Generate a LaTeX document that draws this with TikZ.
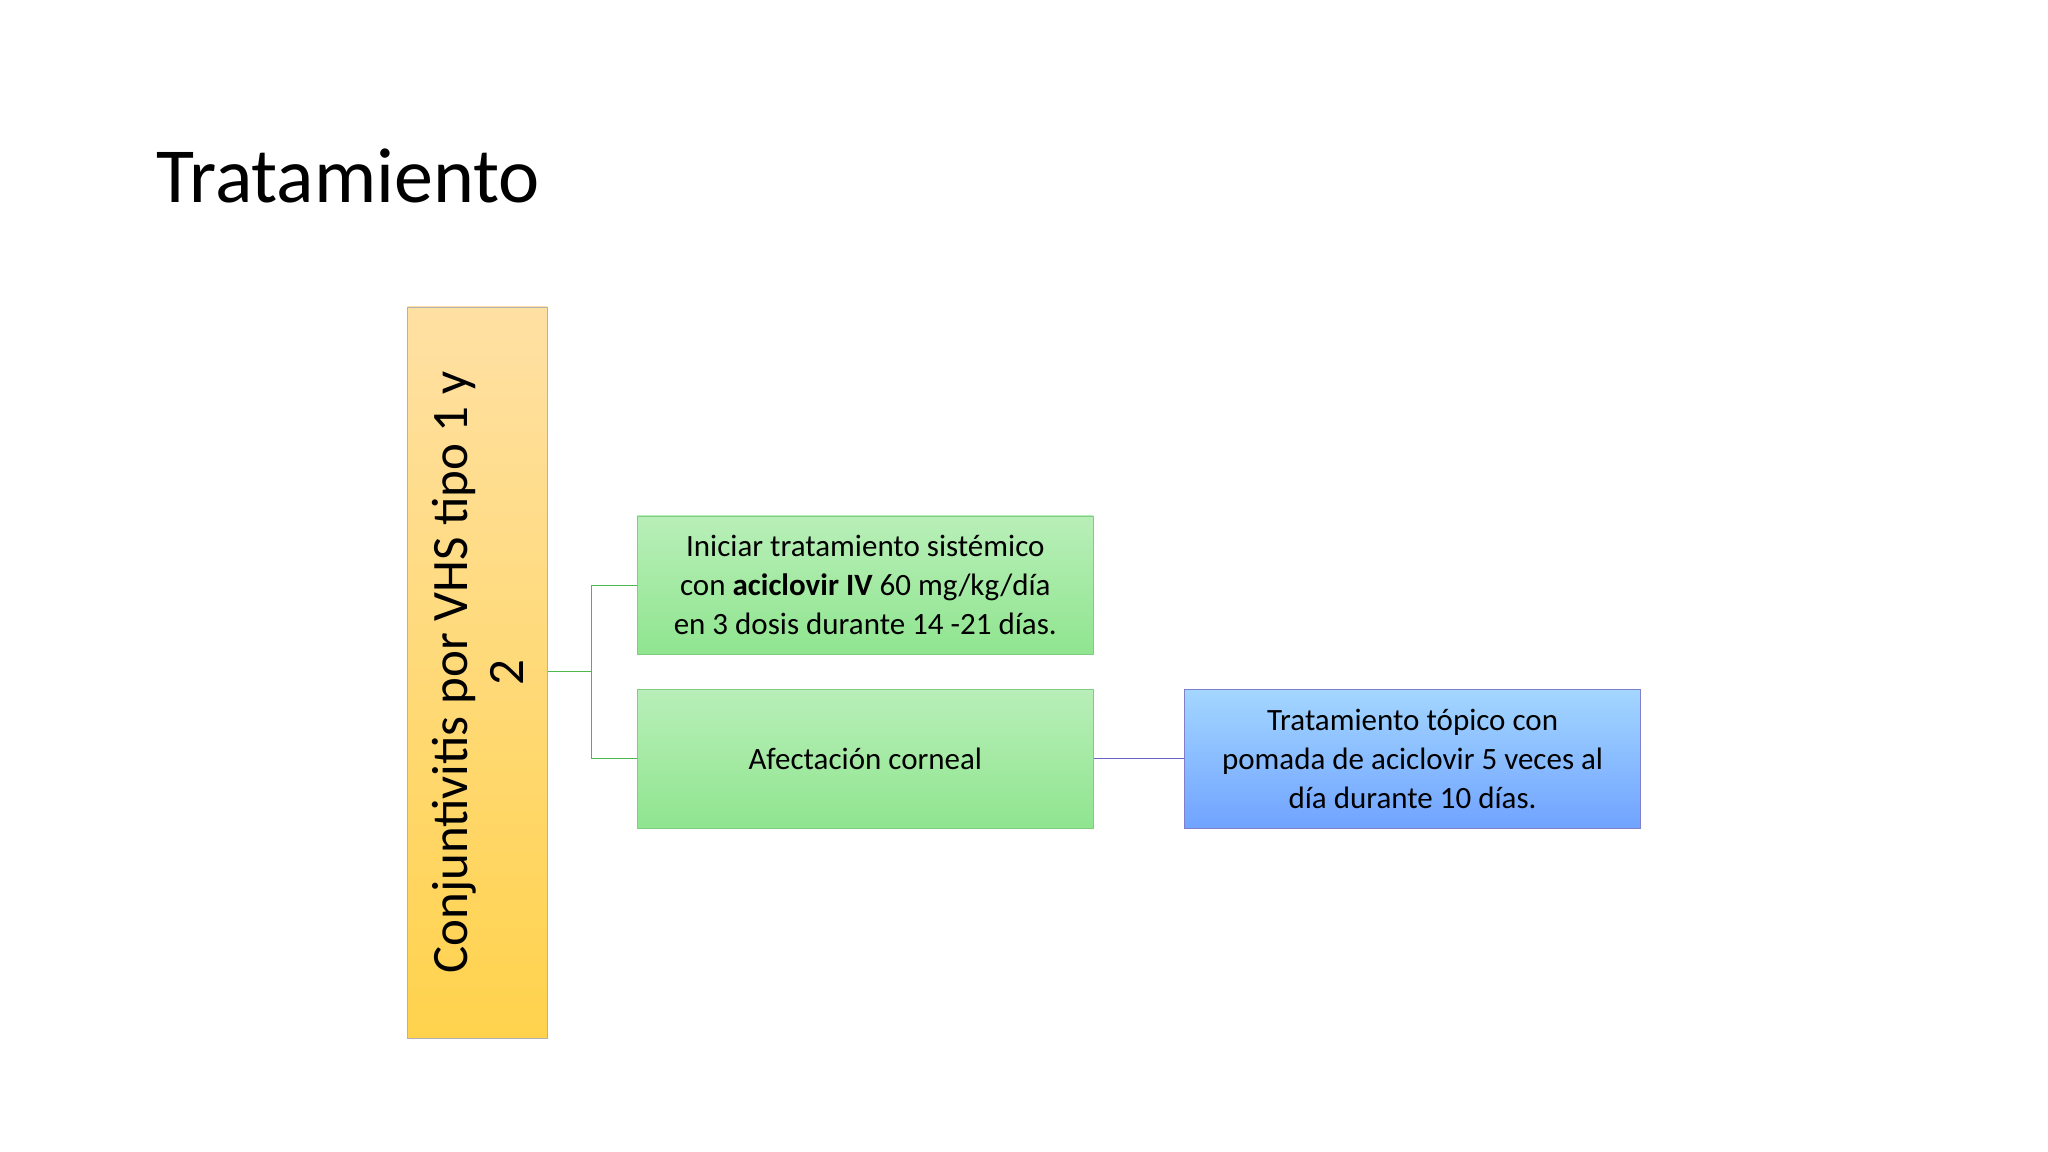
\documentclass[tikz,border=0pt]{standalone}
\usepackage{fontspec}
\setmainfont{Carlito}
\begin{document}
\begin{tikzpicture}[x=1.306pt,y=-1.306pt,
 box/.style={draw=#1!60!black!50, line width=0.8pt, minimum width=349*1.306pt, minimum height=106*1.306pt, align=center, inner sep=2pt, font=\fontsize{31}{39}\selectfont},
 conn/.style={line width=1.2pt}]
\useasboundingbox (0,0) rectangle (1568,882);
\node[anchor=base west,font=\fontsize{78}{90}\selectfont] (title) at (117,155) {Tratamiento};
\node[draw=black!30, line width=0.8pt, top color=orange!25!yellow!20!white!80!orange, bottom color=orange!50!yellow!70, shading angle=0, minimum width=107*1.306pt, minimum height=560*1.306pt, inner sep=0pt] (a) at (365.5,515) {};
\node[rotate=90, align=center, font=\fontsize{51}{56}\selectfont] (at) at (365.5,515) {Conjuntivitis por VHS tipo 1 y\\2};
\node[box=green, top color=green!50!black!15!white!85!green, bottom color=green!45!black!25!white!75!green] (b) at (662.5,448) {Iniciar tratamiento sistémico\\con \textbf{aciclovir IV} 60 mg/kg/día\\en 3 dosis durante 14 -21 días.};
\node[box=green, top color=green!50!black!15!white!85!green, bottom color=green!45!black!25!white!75!green] (c) at (662.5,581) {Afectación corneal};
\node[box=blue, top color=blue!20!white!80!cyan, bottom color=blue!45!white!80!cyan] (d) at (1081.5,581) {Tratamiento tópico con\\pomada de aciclovir 5 veces al\\día durante 10 días.};
\coordinate (m) at (453,514);
\draw[conn, draw=green!60!black!70] (a.east |- m) -- (m) |- (b.west);
\draw[conn, draw=green!60!black!70] (m) |- (c.west);
\draw[conn, draw=blue!60!black!60] (c.east) -- (d.west);
\end{tikzpicture}
\end{document}
